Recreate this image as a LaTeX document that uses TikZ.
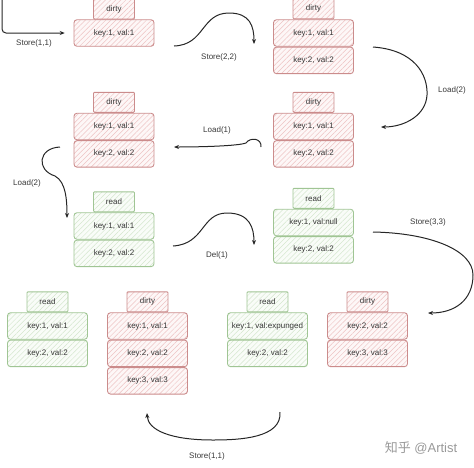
\documentclass[tikz,border=0pt]{standalone}
\usepackage{fontspec}
\setmainfont{Liberation Sans}
\newfontfamily\cjkfont{Noto Sans CJK SC}
\usetikzlibrary{positioning, patterns.meta, arrows.meta}
\definecolor{dirtyline}{HTML}{CB8C8C}
\definecolor{dirtyhatch}{HTML}{EEC3C3}
\definecolor{dirtyfill}{HTML}{FDF7F7}
\definecolor{readline}{HTML}{A0C594}
\definecolor{readhatch}{HTML}{D5E7CE}
\definecolor{readfill}{HTML}{F9FCF8}
\definecolor{inkgray}{HTML}{383838}

\tikzset{
    cell/.style={draw, line width=0.9pt, rounded corners=3pt, minimum width=80pt, minimum height=26.5pt, inner sep=0pt, font=\fontsize{8}{9}\selectfont, text=inkgray},
    dirtycell/.style={cell, draw=dirtyline, preaction={fill=dirtyfill}, pattern={Lines[angle=45, distance=3.6pt, line width=0.5pt]}, pattern color=dirtyhatch},
    readcell/.style={cell, draw=readline, preaction={fill=readfill}, pattern={Lines[angle=45, distance=3.6pt, line width=0.5pt]}, pattern color=readhatch},
    dirtytag/.style={dirtycell, rounded corners=1pt, minimum width=41pt, minimum height=20pt},
    readtag/.style={readcell, rounded corners=1pt, minimum width=41pt, minimum height=20pt},
    flow/.style={draw=black!85, line width=1pt, -{Stealth[length=5pt,width=4pt]}},
    lbl/.style={font=\fontsize{8}{9}\selectfont, text=inkgray}
}

\begin{document}
\begin{tikzpicture}[x=1pt, y=-1pt]
    \useasboundingbox (0,0) rectangle (474,467);

    % First row: dirty maps after the two stores
    \node[dirtycell] (p1r1) at (114,33) {key:1, val:1};
    \node[dirtytag, above=0pt of p1r1] (p1tag) {dirty};

    \node[dirtycell] (p2r1) at (313.5,33) {key:1, val:1};
    \node[dirtycell, below=0pt of p2r1] (p2r2) {key:2, val:2};
    \node[dirtytag, above=0pt of p2r1] (p2tag) {dirty};

    % Second row: dirty maps while loading
    \foreach \p/\x in {p3/114, p4/313.5} {
        \node[dirtycell] (\p r1) at (\x,126.5) {key:1, val:1};
        \node[dirtycell, below=0pt of \p r1] (\p r2) {key:2, val:2};
        \node[dirtytag, above=0pt of \p r1] (\p tag) {dirty};
    }

    % Third row: promoted to read
    \node[readcell] (p5r1) at (114,226) {key:1, val:1};
    \node[readcell, below=0pt of p5r1] (p5r2) {key:2, val:2};
    \node[readtag, above=0pt of p5r1] (p5tag) {read};

    \node[readcell] (p6r1) at (313.5,222.5) {key:1, val:null};
    \node[readcell, below=0pt of p6r1] (p6r2) {key:2, val:2};
    \node[readtag, above=0pt of p6r1] (p6tag) {read};

    % Fourth row: read and dirty side by side
    \node[readcell] (p7r1) at (47.5,326) {key:1, val:1};
    \node[readcell, below=0pt of p7r1] (p7r2) {key:2, val:2};
    \node[readtag, above=0pt of p7r1] (p7tag) {read};

    \node[dirtycell] (p8r1) at (147.5,326) {key:1, val:1};
    \node[dirtycell, below=0pt of p8r1] (p8r2) {key:2, val:2};
    \node[dirtycell, below=0pt of p8r2] (p8r3) {key:3, val:3};
    \node[dirtytag, above=0pt of p8r1] (p8tag) {dirty};

    \node[readcell] (p9r1) at (267.5,326) {key:1, val:expunged};
    \node[readcell, below=0pt of p9r1] (p9r2) {key:2, val:2};
    \node[readtag, above=0pt of p9r1] (p9tag) {read};

    \node[dirtycell] (p10r1) at (367.5,326) {key:2, val:2};
    \node[dirtycell, below=0pt of p10r1] (p10r2) {key:3, val:3};
    \node[dirtytag, above=0pt of p10r1] (p10tag) {dirty};

    % Free ends of the connectors
    \coordinate (in1) at (2,-4);
    \coordinate (s22a) at (174,46);
    \coordinate (s22b) at (254,44);
    \coordinate (l2a) at (373,47);
    \coordinate (l2b) at (381,127);
    \coordinate (l1a) at (261,147);
    \coordinate (l1b) at (174,147);
    \coordinate (l2c) at (60,147);
    \coordinate (l2d) at (67,218);
    \coordinate (d1a) at (173,246);
    \coordinate (d1b) at (254,245);
    \coordinate (s33a) at (373,232);
    \coordinate (s33b) at (428,313);
    \coordinate (s11a) at (280,412);
    \coordinate (s11b) at (147,413);

    % Connectors
    \draw[flow, rounded corners=4pt] (in1) |- ([xshift=-9pt]p1r1.west);
    \draw[flow] (s22a) .. controls (205,45) and (201,13) .. (229,13) .. controls (250,13) and (254,26) .. (s22b);
    \draw[flow] (l2a) .. controls (415,50) and (428,75) .. (427,95) .. controls (426,115) and (405,127) .. (l2b);
    \draw[flow] (l1a) .. controls (262,138) and (250,137) .. (246,143) .. controls (238,146) and (200,147) .. (l1b);
    \draw[flow] (l2c) .. controls (38,148) and (36,170) .. (55,176) .. controls (66,182) and (67,200) .. (l2d);
    \draw[flow] (d1a) .. controls (205,244) and (201,213) .. (227,213) .. controls (250,213) and (254,228) .. (d1b);
    \draw[flow] (s33a) .. controls (430,233) and (473,250) .. (473,275) .. controls (473,300) and (455,313) .. (s33b);
    \draw[flow] (s11a) .. controls (282,438) and (240,440) .. (213,440) .. controls (170,440) and (148,430) .. (s11b);

    % Labels
    \node[lbl] (tin1) at (34,43) {Store(1,1)};
    \node[lbl] (ts22) at (219,57) {Store(2,2)};
    \node[lbl] (tl2a) at (452,90) {Load(2)};
    \node[lbl] (tl1) at (217,130) {Load(1)};
    \node[lbl] (tl2b) at (27,183) {Load(2)};
    \node[lbl] (td1) at (217,255) {Del(1)};
    \node[lbl] (ts33) at (428,222) {Store(3,3)};
    \node[lbl] (ts11) at (207,456) {Store(1,1)};

    % Watermark
    \node[text=black!40, font=\fontsize{13}{14}\selectfont] (mark) at (421,448) {{\cjkfont 知乎} @Artist};
\end{tikzpicture}
\end{document}
